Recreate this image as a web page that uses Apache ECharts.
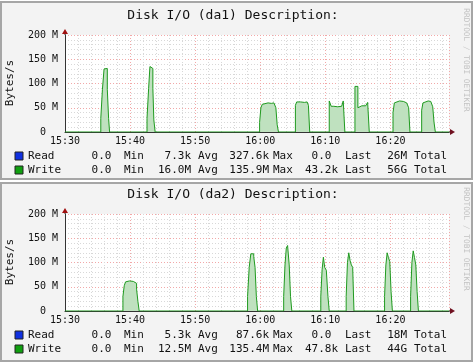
<!DOCTYPE html>
<html><head><meta charset="utf-8">
<script src="https://cdn.jsdelivr.net/npm/echarts@6/dist/echarts.min.js"></script>
<style>html,body{margin:0;padding:0;background:#fff}#c{width:474px;height:363px}</style>
</head><body><div id="c"></div>
<script>
// minutes after 15:30, values in M bytes/s
const xTickLabels = ['15:30','15:40','15:50','16:00','16:10','16:20'];
const yTickLabels = ['0','50 M','100 M','150 M','200 M'];
const titles = ['Disk I/O (da1) Description:', 'Disk I/O (da2) Description:'];
const legendRead = [['0.0','7.3k','327.6k','0.0','26M'], ['0.0','5.3k','87.6k','0.0','18M']];
const legendWrite = [['0.0','16.0M','135.9M','43.2k','56G'], ['0.0','12.5M','135.4M','47.8k','44G']];

const da1Time  = [0, 5.5, 5.75, 6.0, 6.25, 6.5, 6.7, 6.85,
  12.6, 12.85, 13.05, 13.3, 13.5, 13.65, 13.85,
  29.9, 30.1, 30.3, 30.6, 31.2, 31.7, 32.1, 32.4, 32.6, 32.8,
  35.4, 35.6, 36.2, 36.8, 37.2, 37.4, 37.6,
  40.6, 40.9, 41.3, 41.6, 41.9, 42.2, 42.5, 42.75, 43.0,
  44.55, 45.0, 45.3, 45.6, 45.9, 46.2, 46.5, 46.75,
  50.4, 50.6, 50.8, 51.4, 52.0, 52.5, 52.8, 53.0,
  54.8, 55.0, 55.3, 55.8, 56.2, 56.5, 56.7, 56.9, 59];
const da1Write = [0, 28, 88, 130, 131, 88, 28, 0,
  28, 90, 135, 131, 90, 25, 0,
  20, 50, 57, 60, 59, 60, 57, 50, 15, 0,
  55, 62, 61, 62, 61, 55, 0,
  64, 53, 56, 52, 55, 53, 57, 64, 0,
  94, 50, 54, 52, 54, 53, 61, 0,
  40, 60, 64, 63, 60, 57, 50, 0,
  45, 60, 64, 63, 60, 52, 20, 0, 0];

const da2Time  = [0, 8.9, 9.1, 9.3, 9.6, 9.9, 10.2, 10.5, 10.8, 11.0, 11.2, 11.4,
  28.05, 28.3, 28.55, 29.0, 29.2, 29.4, 29.6,
  33.6, 33.8, 34.0, 34.2, 34.45, 34.65, 34.85,
  39.3, 39.5, 39.7, 39.9, 40.15, 40.4, 40.6,
  43.2, 43.4, 43.6, 43.8, 44.0, 44.2, 44.4,
  49.1, 49.3, 49.5, 49.7, 49.9, 50.1, 50.3,
  53.1, 53.3, 53.5, 53.7, 53.9, 54.1, 54.3, 59];
const da2Write = [0, 30, 52, 60, 62, 58, 61, 62, 57, 45, 20, 0,
  30, 90, 118, 112, 90, 30, 0,
  30, 95, 130, 135, 95, 30, 0,
  30, 85, 111, 90, 84, 30, 0,
  30, 100, 120, 104, 95, 90, 0,
  30, 95, 120, 110, 102, 40, 0,
  30, 100, 124, 110, 95, 40, 0, 0];

const GL = 65, GR = 449, GH = 97;
const panelTops = [35, 214];
const chart = echarts.init(document.getElementById('c'), null, {renderer: 'canvas'});
const mono = '"DejaVu Sans Mono", monospace';

function fmtX(v){ const i = Math.round(v/10); return xTickLabels[i] || ''; }
function fmtY(v){ const i = Math.round(v/50); return i === 0 ? '0  ' : yTickLabels[i]; }

const grids = [], xAxes = [], yAxes = [], series = [], graphics = [];
[[da1Time, da1Write],[da2Time, da2Write]].forEach((d, k) => {
  const top = panelTops[k];
  grids.push({left: GL, top: top, width: GR - GL, height: GH, show: true, backgroundColor: '#ffffff', borderWidth: 0});
  xAxes.push({type: 'value', gridIndex: k, min: 0, max: 59, interval: 10,
    axisLine: {show: true, onZero: false, lineStyle: {color: '#333', width: 1}},
    axisTick: {show: false},
    axisLabel: {formatter: fmtX, fontFamily: mono, fontSize: 10, color: '#111', margin: 4, showMaxLabel: false},
    splitLine: {show: true, lineStyle: {color: '#f2a8a8', type: [1, 2], width: 1}},
    minorTick: {show: false, splitNumber: 5},
    minorSplitLine: {show: true, lineStyle: {color: '#d8d8d8', type: [1, 2], width: 1}}
  });
  yAxes.push({type: 'value', gridIndex: k, min: 0, max: 200, interval: 50,
    axisLine: {show: true, lineStyle: {color: '#333', width: 1}},
    axisTick: {show: false},
    axisLabel: {formatter: fmtY, fontFamily: mono, fontSize: 10, color: '#111', margin: 7},
    splitLine: {show: true, lineStyle: {color: '#f2a8a8', type: [1, 2], width: 1}},
    minorTick: {show: false, splitNumber: 5},
    minorSplitLine: {show: true, lineStyle: {color: '#d8d8d8', type: [1, 2], width: 1}}
  });
  series.push({type: 'line', xAxisIndex: k, yAxisIndex: k, step: 'end', symbol: 'none', silent: true,
    data: d[0].map((t, i) => [t, d[1][i]]),
    lineStyle: {color: '#1f9a1f', width: 1},
    areaStyle: {color: '#bfe1bf', opacity: 1}, z: 3
  });

  const py = k === 0 ? 2 : 183;
  const ph = k === 0 ? 177 : 178;
  graphics.push({type: 'rect', z: -10, shape: {x: 1, y: py, width: 471, height: ph}, style: {fill: '#f3f3f3', stroke: '#a6a6a6', lineWidth: 2}});
  graphics.push({type: 'text', x: 233, y: top - 19, style: {text: titles[k], font: '13px ' + mono, fill: '#111', textAlign: 'center', textVerticalAlign: 'middle'}});
  graphics.push({type: 'text', x: 10, y: top + 48, rotation: Math.PI/2, style: {text: 'Bytes/s', font: '11px ' + mono, fill: '#111', textAlign: 'center', textVerticalAlign: 'middle'}});
  graphics.push({type: 'text', x: 466, y: top + 25, rotation: -Math.PI/2, style: {text: 'RRDTOOL / TOBI OETIKER', font: '7.8px ' + mono, fill: '#c2c2c2', textAlign: 'center', textVerticalAlign: 'middle'}});
  // axis arrows
  graphics.push({type: 'line', z: 20, shape: {x1: GL, y1: top, x2: GL, y2: top - 3}, style: {stroke: '#333', lineWidth: 1}});
  graphics.push({type: 'polygon', z: 20, shape: {points: [[GL - 3, top - 1], [GL + 3, top - 1], [GL, top - 6]]}, style: {fill: '#a01010'}});
  graphics.push({type: 'line', z: 20, shape: {x1: GR, y1: top + GH, x2: GR + 2, y2: top + GH}, style: {stroke: '#333', lineWidth: 1}});
  graphics.push({type: 'polygon', z: 20, shape: {points: [[GR + 1, top + GH - 3], [GR + 1, top + GH + 3], [GR + 6, top + GH]]}, style: {fill: '#701020'}});

  // legend
  const rows = [['Read', '#1030e0', legendRead[k]], ['Write', '#10a010', legendWrite[k]]];
  const r0 = k === 0 ? 156 : 335;
  rows.forEach((r, j) => {
    const y = r0 + j * 14;
    graphics.push({type: 'rect', shape: {x: 15, y: y - 4, width: 8, height: 8}, style: {fill: r[1], stroke: '#222', lineWidth: 1}});
    const fnt = '11px ' + mono;
    graphics.push({type: 'text', x: 28, y: y, style: {text: r[0], font: fnt, fill: '#111', textVerticalAlign: 'middle'}});
    const vals = r[2];
    const rightX = [118, 191, 269, 338, 407];
    const words = ['Min', 'Avg', 'Max', 'Last', 'Total'];
    const wordX = [124, 198, 273, 345, 414];
    vals.forEach((v, i) => {
      const txt = /[0-9]$/.test(v) ? v + ' ' : v;
      graphics.push({type: 'text', x: rightX[i], y: y, style: {text: txt, font: fnt, fill: '#111', textAlign: 'right', textVerticalAlign: 'middle'}});
      graphics.push({type: 'text', x: wordX[i], y: y, style: {text: words[i], font: fnt, fill: '#111', textVerticalAlign: 'middle'}});
    });
  });
});

chart.setOption({
  backgroundColor: '#ffffff',
  animation: false,
  grid: grids, xAxis: xAxes, yAxis: yAxes, series: series,
  graphic: graphics
});
</script></body></html>
